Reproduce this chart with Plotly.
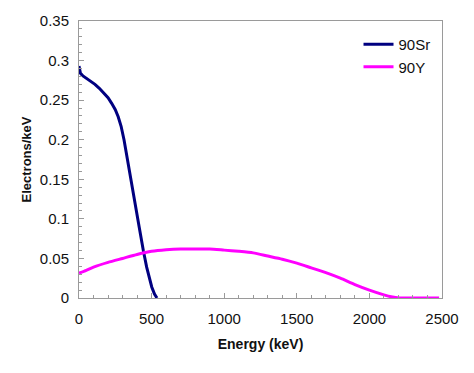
import plotly.graph_objects as go

sr_energy = [0, 3, 10, 25, 50, 80, 110, 140, 170, 200, 225, 250, 270, 290, 310, 330, 350, 386, 415, 443, 466, 501, 520, 537]
sr_values = [0.293, 0.288, 0.284, 0.281, 0.278, 0.274, 0.270, 0.265, 0.259, 0.253, 0.246, 0.238, 0.229, 0.217,
             0.200, 0.178, 0.155, 0.118, 0.089, 0.060, 0.039, 0.014, 0.005, 0.0]

y_energy = [0, 50, 100, 200, 300, 400, 500, 600, 700, 800, 900, 1000, 1100, 1200, 1300, 1400,
            1500, 1600, 1700, 1800, 1900, 2000, 2100, 2150, 2210, 2300, 2480]
y_values = [0.0315, 0.035, 0.039, 0.045, 0.050, 0.055, 0.059, 0.061, 0.062, 0.062, 0.062, 0.0605,
            0.059, 0.057, 0.053, 0.049, 0.044, 0.038, 0.032, 0.025, 0.017, 0.010, 0.004, 0.0015, 0.0, 0.0, 0.0]

series_names = ["90Sr", "90Y"]
x_ticks = [0, 500, 1000, 1500, 2000, 2500]
y_ticks = [0, 0.05, 0.1, 0.15, 0.2, 0.25, 0.3, 0.35]
y_tick_text = ["0", "0.05", "0.1", "0.15", "0.2", "0.25", "0.3", "0.35"]

font_family = "Liberation Sans, Arial, sans-serif"

fig = go.Figure()
fig.add_trace(go.Scatter(x=sr_energy, y=sr_values, mode="lines", name=series_names[0],
                         line=dict(color="#000080", width=3)))
fig.add_trace(go.Scatter(x=y_energy, y=y_values, mode="lines", name=series_names[1],
                         line=dict(color="#FF00FF", width=3, shape="spline", smoothing=0.6)))

axis_common = dict(
    showline=True, linecolor="#9a9a9a", linewidth=1, mirror=True,
    showgrid=False, zeroline=False,
    ticks="inside", ticklen=5, tickcolor="#9a9a9a",
    tickfont=dict(family=font_family, size=15, color="#111111"),
)

fig.update_xaxes(
    range=[0, 2500], tickvals=x_ticks, ticklabelstandoff=7,
    minor=dict(ticks="inside", ticklen=3, tickcolor="#9a9a9a", dtick=100, showgrid=False),
    title=dict(text="<b>Energy (keV)</b>", font=dict(family=font_family, size=14, color="#111111"),
               standoff=13),
    **axis_common,
)
fig.update_yaxes(
    range=[0, 0.35], tickvals=y_ticks, ticktext=y_tick_text, ticklabelstandoff=6,
    minor=dict(ticks="inside", ticklen=3, tickcolor="#9a9a9a", dtick=0.01, showgrid=False),
    title=dict(text="<b>Electrons/keV</b>", font=dict(family=font_family, size=13, color="#111111"),
               standoff=5),
    **axis_common,
)

fig.update_layout(
    width=474, height=373,
    margin=dict(l=79, r=32, t=17, b=75),
    paper_bgcolor="white", plot_bgcolor="white",
    showlegend=True,
    legend=dict(x=0.77, y=0.975, xanchor="left", yanchor="top",
                bgcolor="rgba(0,0,0,0)", borderwidth=0,
                font=dict(family=font_family, size=15, color="#111111")),
)

fig.write_html("out.html")
